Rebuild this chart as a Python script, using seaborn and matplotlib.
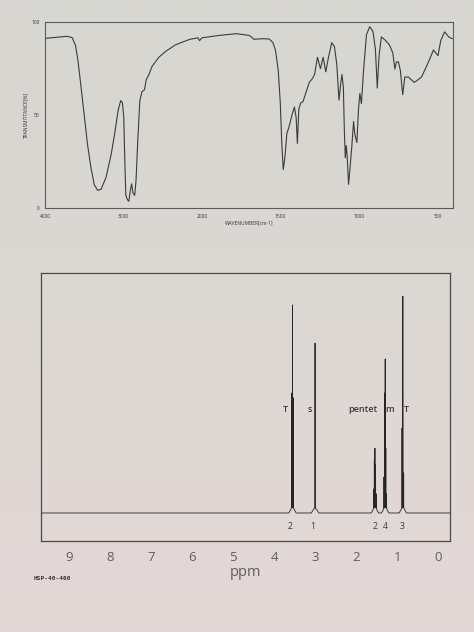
import numpy as np
import matplotlib
matplotlib.use("Agg")
import matplotlib.pyplot as plt
from matplotlib.colors import LinearSegmentedColormap
import seaborn as sns
import pandas as pd

# ---------------- IR spectrum data ----------------
ir_wavenumber = [4000, 3719, 3654, 3610, 3580, 3545, 3502, 3459, 3416, 3372,
                 3329, 3286, 3221, 3156, 3113, 3069, 3035, 3013, 2996, 2983,
                 2970, 2948, 2931, 2913, 2896, 2879, 2857, 2840, 2818, 2792,
                 2766, 2732, 2710, 2680, 2636, 2550, 2463, 2333, 2160, 2052,
                 2030, 2000, 1888, 1783, 1699, 1668, 1615, 1573, 1548, 1531,
                 1514, 1501, 1491, 1482, 1472, 1459, 1446, 1425, 1411, 1400,
                 1392, 1383, 1371, 1356, 1337, 1316, 1295, 1282, 1264, 1245,
                 1228, 1211, 1194, 1173, 1156, 1141, 1127, 1116, 1108, 1099,
                 1093, 1087, 1080, 1074, 1066, 1055, 1045, 1034, 1026, 1013,
                 1003, 994, 984, 971, 952, 931, 910, 895, 883, 872,
                 857, 832, 805, 784, 771, 761, 748, 736, 721, 708,
                 685, 647, 601, 559, 525, 510, 496, 479, 454, 427,
                 405]
ir_transmittance = [91.2, 92.3, 91.6, 87.3, 79.2, 66.7, 50.6, 34.5, 22.0, 12.5,
                    9.5, 10.0, 16.6, 29.0, 39.7, 52.2, 57.8, 56.6, 48.6, 25.4,
                    6.8, 4.4, 3.6, 9.4, 13.0, 8.0, 6.8, 14.8, 36.0, 57.4,
                    62.4, 63.6, 69.0, 71.3, 76.1, 81.0, 84.2, 87.8, 90.6, 91.5,
                    90.0, 91.5, 92.8, 93.7, 92.8, 90.7, 91.0, 90.9, 89.0, 84.6,
                    74.0, 56.6, 33.8, 20.7, 26.8, 40.0, 43.4, 50.4, 54.3, 48.7,
                    34.7, 53.0, 56.5, 57.2, 62.2, 67.6, 69.7, 72.0, 81.0, 74.9,
                    81.0, 73.2, 81.0, 88.9, 86.8, 77.2, 58.0, 66.7, 71.8, 64.9,
                    42.3, 27.0, 33.6, 26.6, 12.7, 23.1, 33.5, 46.5, 39.6, 35.2,
                    52.6, 61.6, 56.1, 73.4, 93.2, 97.5, 94.8, 85.4, 64.5, 81.6,
                    92.0, 90.2, 87.6, 83.3, 74.7, 78.5, 78.5, 73.9, 60.9, 70.4,
                    70.4, 67.5, 70.4, 78.1, 85.0, 83.3, 81.9, 89.9, 94.7, 91.9,
                    91.0]
ir_xticks = [4000, 3000, 2000, 1500, 1000, 500]
ir_xticklabels = ["4000", "3000", "2000", "1500", "1000", "500"]
ir_yticks = [0, 50, 100]
ir_yticklabels = ["0", "50", "100"]

# ---------------- 1H NMR data ----------------
nmr_group_center = [3.55, 3.00, 1.54, 1.29, 0.86]
nmr_group_lines = [[3.57, 3.55, 3.53],
                   [3.00],
                   [1.57, 1.555, 1.54, 1.525, 1.51],
                   [1.32, 1.305, 1.29, 1.275, 1.26],
                   [0.88, 0.86, 0.84]]
nmr_group_heights = [[0.50, 0.867, 0.48],
                     [0.708],
                     [0.10, 0.22, 0.27, 0.20, 0.08],
                     [0.15, 0.50, 0.642, 0.27, 0.08],
                     [0.354, 0.904, 0.167]]
mult_labels = ["T", "s", "pentet", "m", "T"]
mult_ppm = [3.71, 3.12, 1.83, 1.195, 0.78]
integ_labels = ["2", "1", "2", "4", "3"]
integ_ppm = [3.61, 3.05, 1.54, 1.29, 0.88]
nmr_ticks = [9, 8, 7, 6, 5, 4, 3, 2, 1, 0]
nmr_minor = [9.5, 8.5, 7.5, 6.5, 5.5, 4.5, 3.5, 2.5, 1.5, 0.5]
nmr_range = (9.68, -0.29)

# ---------------- style ----------------
sns.set_theme(style="white")
plt.rcParams["font.family"] = ["Open Sans", "DejaVu Sans"]
ink = "#3b3b3b"
frame = "#5a5a5a"

fig = plt.figure(figsize=(4.74, 6.32), dpi=100)

# paper background (grey at top, slightly pink at bottom)
bg = fig.add_axes([0, 0, 1, 1], zorder=-10)
cmap = LinearSegmentedColormap.from_list("paper", ["#d7d6d1", "#dcd8d3", "#e4d7d7"])
bg.imshow(np.linspace(0, 1, 256).reshape(-1, 1), aspect="auto", cmap=cmap,
          extent=[0, 1, 0, 1])
bg.set_axis_off()

# ---------------- IR panel ----------------
ax1 = fig.add_axes([0.0949, 0.6709, 0.861, 0.2943])
ax1.patch.set_alpha(0)
ir_df = pd.DataFrame({"wavenumber": ir_wavenumber, "T": ir_transmittance})
sns.lineplot(data=ir_df, x="wavenumber", y="T", ax=ax1, sort=False,
             estimator=None, color=ink, linewidth=0.8)


def fwd(w):
    w = np.asarray(w, dtype=float)
    return np.where(w <= 2000, w / 1000.0, 2.0 + (w - 2000.0) / 2000.0)


def inv(u):
    u = np.asarray(u, dtype=float)
    return np.where(u <= 2.0, u * 1000.0, 2000.0 + (u - 2.0) * 2000.0)


ax1.set_xscale("function", functions=(fwd, inv))
ax1.set_xticks(ir_xticks)
ax1.set_xticklabels(ir_xticklabels)
ax1.set_xticks([v for v in range(400, 4000, 100) if v not in ir_xticks], minor=True)
ax1.set_yticks(ir_yticks)
ax1.set_yticklabels(ir_yticklabels)
ax1.set_yticks([10, 20, 30, 40, 60, 70, 80, 90], minor=True)
ax1.set_xlim(4000, 400)
ax1.set_ylim(0, 100)
ax1.tick_params(axis="both", which="major", direction="out", length=2.5,
                width=0.6, color=frame, labelsize=3.5, labelcolor="#333333", pad=1.5)
ax1.tick_params(axis="both", which="minor", direction="out", length=1.5,
                width=0.5, color=frame)
ax1.set_xlabel("WAVENUMBER[cm-1]", fontsize=3.5, color="#333333", labelpad=1)
ax1.set_ylabel("TRANSMITTANCE[%]", fontsize=3.5, color="#333333", labelpad=2)
for s in ax1.spines.values():
    s.set_color(frame)
    s.set_linewidth(0.8)

# ---------------- NMR panel ----------------
ax2 = fig.add_axes([0.0865, 0.144, 0.8629, 0.424])
ax2.patch.set_alpha(0)

# build the spectrum trace from the line list
tx, ty = [nmr_range[0]], [0.0]
for c, lines, hts in zip(nmr_group_center, nmr_group_lines, nmr_group_heights):
    tx += [c + 0.09, c + 0.05]
    ty += [0.0, 0.012]
    for p, h in zip(lines, hts):
        tx += [p + 0.003, p, p - 0.003]
        ty += [0.022, h, 0.022]
    tx += [c - 0.05, c - 0.09]
    ty += [0.012, 0.0]
tx.append(nmr_range[1])
ty.append(0.0)
nmr_df = pd.DataFrame({"ppm": tx, "intensity": ty})
sns.lineplot(data=nmr_df, x="ppm", y="intensity", ax=ax2, sort=False,
             estimator=None, color="#262626", linewidth=0.6)

ax2.set_yticks([])
ax2.set_xticks(nmr_ticks)
ax2.set_xticklabels([str(t) for t in nmr_ticks])
ax2.set_xticks(nmr_minor, minor=True)
ax2.set_xlim(*nmr_range)
ax2.set_ylim(-0.1167, 1.0)
ax2.tick_params(axis="x", which="major", direction="out", length=5, width=0.9,
                color="#555555", labelsize=9.5, labelcolor="#5e5e5e", pad=2)
ax2.tick_params(axis="x", which="minor", direction="out", length=2.5, width=0.8,
                color="#555555")
ax2.set_xlabel("ppm", fontsize=10.5, color="#5e5e5e", labelpad=1)
ax2.set_ylabel("")
for s in ax2.spines.values():
    s.set_color("#4a4a4a")
    s.set_linewidth(0.9)

for lab, p in zip(mult_labels, mult_ppm):
    ax2.text(p, 0.433, lab, ha="center", va="center", fontsize=6.5,
             fontweight="semibold", color="#3a3a3a")
for lab, p in zip(integ_labels, integ_ppm):
    ax2.text(p, -0.058, lab, ha="center", va="center", fontsize=6.3,
             color="#3a3a3a")

fig.text(0.07, 0.085, "HSP-40-460", fontsize=4.5, family="DejaVu Sans Mono",
         fontweight="bold", color="#3a3a3a", ha="left", va="center")

fig.savefig("out.png", dpi=100, facecolor=fig.get_facecolor())
